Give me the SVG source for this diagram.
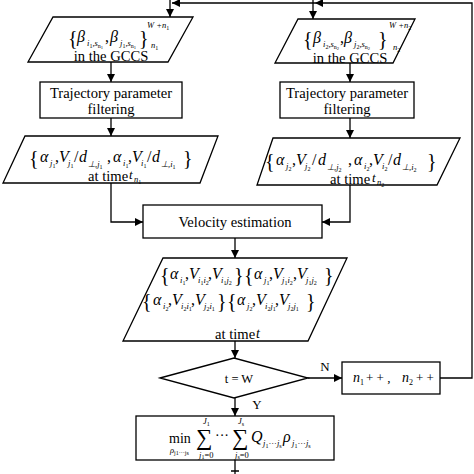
<svg xmlns="http://www.w3.org/2000/svg" width="474" height="474" viewBox="0 0 474 474">
<style>
.sh{fill:#fff;stroke:#000;stroke-width:1.3}
.ln{fill:none;stroke:#000;stroke-width:1.3}
.t{font-family:"Liberation Serif","Times New Roman",serif;font-size:14.6px;fill:#000}
.mi{font-family:"Liberation Serif","Times New Roman",serif;font-style:italic;font-size:16px;fill:#000}
.up{font-family:"Liberation Serif","Times New Roman",serif;font-size:16px;fill:#000}
.br{font-family:"Liberation Serif","Times New Roman",serif;font-size:20px;fill:#000}
.sb{font-family:"Liberation Serif","Times New Roman",serif;font-style:italic;font-size:8.5px;fill:#000}
.d{font-style:normal;font-size:6px}
</style>
<defs>
<marker id="ar" viewBox="0 0 10 10" refX="10" refY="5" markerWidth="9" markerHeight="8" markerUnits="userSpaceOnUse" orient="auto">
<path d="M0,0 L10,5 L0,10 Z" fill="#000"/>
</marker>
</defs>

<g id="connectors">
<path class="ln" d="M440,378 H472 V3 H315" marker-end="url(#ar)"/>
<path class="ln" d="M315,3 H172" marker-end="url(#ar)"/>
<path class="ln" d="M170,0 V17" marker-end="url(#ar)"/>
<path class="ln" d="M313,0 V19" marker-end="url(#ar)"/>
<path class="ln" d="M111,62 V82" marker-end="url(#ar)"/>
<path class="ln" d="M111,118 V136" marker-end="url(#ar)"/>
<path class="ln" d="M350,63 V82" marker-end="url(#ar)"/>
<path class="ln" d="M350,118 V138" marker-end="url(#ar)"/>
<path class="ln" d="M111,183 V222 H143" marker-end="url(#ar)"/>
<path class="ln" d="M350,185 V222 H322" marker-end="url(#ar)"/>
<path class="ln" d="M235,238 V258" marker-end="url(#ar)"/>
<path class="ln" d="M235,341 V358" marker-end="url(#ar)"/>
<path class="ln" d="M308,378 H342" marker-end="url(#ar)"/>
<path class="ln" d="M235,398 V416" marker-end="url(#ar)"/>
<path class="ln" d="M235,460 V474 M231,471 H239"/>
<text class="t" x="325" y="371" text-anchor="middle" style="font-size:13px">N</text>
<text class="t" x="257" y="409" text-anchor="middle" style="font-size:13px">Y</text>
</g>

<g id="in1">
<polygon class="sh" points="53,17 193,17 168,62 28,62"/>
<text class="br" x="68" y="45">{</text>
<text class="mi" x="77" y="42">β</text>
<text class="sb" x="87" y="46">i<tspan class="d" dy="1.5">1</tspan><tspan dy="-1.5">,s</tspan><tspan class="d" dy="1.5">n</tspan><tspan class="d" dy="1" style="font-size:4.5px">1</tspan></text>
<text class="up" x="105" y="42">,</text>
<text class="mi" x="110" y="42">β</text>
<text class="sb" x="120" y="46">j<tspan class="d" dy="1.5">1</tspan><tspan dy="-1.5">,s</tspan><tspan class="d" dy="1.5">n</tspan><tspan class="d" dy="1" style="font-size:4.5px">1</tspan></text>
<text class="br" x="139" y="45">}</text>
<text class="sb" x="147" y="28">W +n<tspan class="d" dy="1.5">1</tspan></text>
<text class="sb" x="151" y="48">n<tspan class="d" dy="1.5">1</tspan></text>
<text class="t" x="111" y="61" text-anchor="middle">in the GCCS</text>
</g>

<g id="in2">
<polygon class="sh" points="298,19 415,19 393,63 275,63"/>
<text class="br" x="303" y="46">{</text>
<text class="mi" x="313" y="43">β</text>
<text class="sb" x="323" y="47">i<tspan class="d" dy="1.5">2</tspan><tspan dy="-1.5">,s</tspan><tspan class="d" dy="1.5">n</tspan><tspan class="d" dy="1" style="font-size:4.5px">2</tspan></text>
<text class="up" x="340" y="43">,</text>
<text class="mi" x="344" y="43">β</text>
<text class="sb" x="354" y="47">j<tspan class="d" dy="1.5">2</tspan><tspan dy="-1.5">,s</tspan><tspan class="d" dy="1.5">n</tspan><tspan class="d" dy="1" style="font-size:4.5px">2</tspan></text>
<text class="br" x="378" y="46">}</text>
<text class="sb" x="389" y="28">W +n<tspan class="d" dy="1.5">2</tspan></text>
<text class="sb" x="393" y="50">n<tspan class="d" dy="1.5">2</tspan></text>
<text class="t" x="350" y="63" text-anchor="middle">in the GCCS</text>
</g>

<g id="filter1">
<rect class="sh" x="40" y="82" width="142" height="36"/>
<text class="t" x="111" y="98" text-anchor="middle">Trajectory parameter</text>
<text class="t" x="111" y="114" text-anchor="middle">filtering</text>
</g>

<g id="filter2">
<rect class="sh" x="280" y="82" width="134" height="36"/>
<text class="t" x="347" y="98" text-anchor="middle">Trajectory parameter</text>
<text class="t" x="347" y="114" text-anchor="middle">filtering</text>
</g>

<g id="par1">
<polygon class="sh" points="25,136 218,136 200,183 3,183"/>
<text class="br" x="29" y="165">{</text>
<text class="mi" x="40" y="162">α</text>
<text class="sb" x="50" y="166">j<tspan class="d" dy="1.5">1</tspan></text>
<text class="up" x="55" y="162">,</text>
<text class="mi" x="59" y="162">V</text>
<text class="sb" x="68" y="166">j<tspan class="d" dy="1.5">1</tspan></text>
<text class="up" x="74" y="162">/</text>
<text class="mi" x="79" y="162">d</text>
<text class="sb" x="88" y="167">⊥,j<tspan class="d" dy="1.5">1</tspan></text>
<text class="up" x="107" y="162">,</text>
<text class="mi" x="113" y="162">α</text>
<text class="sb" x="123" y="166">i<tspan class="d" dy="1.5">1</tspan></text>
<text class="up" x="128" y="162">,</text>
<text class="mi" x="132" y="162">V</text>
<text class="sb" x="141" y="166">i<tspan class="d" dy="1.5">1</tspan></text>
<text class="up" x="147" y="162">/</text>
<text class="mi" x="152" y="162">d</text>
<text class="sb" x="161" y="167">⊥,i<tspan class="d" dy="1.5">1</tspan></text>
<text class="br" x="183" y="165">}</text>
<text class="t" x="88" y="181">at time</text>
<text class="mi" x="129" y="179" style="font-size:13px">t</text>
<text class="sb" x="134" y="182">n<tspan class="d" dy="1.5">1</tspan></text>
</g>

<g id="par2">
<polygon class="sh" points="273,138 460,138 437,185 257,185"/>
<text class="br" x="265" y="168">{</text>
<text class="mi" x="276" y="165">α</text>
<text class="sb" x="286" y="169">j<tspan class="d" dy="1.5">2</tspan></text>
<text class="up" x="292" y="165">,</text>
<text class="mi" x="296" y="165">V</text>
<text class="sb" x="305" y="169">j<tspan class="d" dy="1.5">2</tspan></text>
<text class="up" x="312" y="165">/</text>
<text class="mi" x="318" y="165">d</text>
<text class="sb" x="327" y="170">⊥,j<tspan class="d" dy="1.5">2</tspan></text>
<text class="up" x="348" y="165">,</text>
<text class="mi" x="354" y="165">α</text>
<text class="sb" x="364" y="169">i<tspan class="d" dy="1.5">2</tspan></text>
<text class="up" x="369" y="165">,</text>
<text class="mi" x="373" y="165">V</text>
<text class="sb" x="382" y="169">i<tspan class="d" dy="1.5">2</tspan></text>
<text class="up" x="388" y="165">/</text>
<text class="mi" x="393" y="165">d</text>
<text class="sb" x="402" y="170">⊥,i<tspan class="d" dy="1.5">2</tspan></text>
<text class="br" x="427" y="168">}</text>
<text class="t" x="330" y="184">at time</text>
<text class="mi" x="372" y="182" style="font-size:13px">t</text>
<text class="sb" x="377" y="185">n<tspan class="d" dy="1.5">2</tspan></text>
</g>

<g id="velocity">
<rect class="sh" x="143" y="205" width="179" height="33"/>
<text class="t" x="235" y="227" text-anchor="middle">Velocity estimation</text>
</g>

<g id="par3">
<polygon class="sh" points="163,258 347,258 308,341 123,341"/>
<text class="br" x="160" y="282">{</text>
<text class="mi" x="170" y="279">α</text>
<text class="sb" x="180" y="283">i<tspan class="d" dy="1.5">1</tspan></text>
<text class="up" x="185" y="279">,</text>
<text class="mi" x="189" y="279">V</text>
<text class="sb" x="198" y="283">i<tspan class="d" dy="1.5">1</tspan><tspan dy="-1.5">i</tspan><tspan class="d" dy="1.5">2</tspan></text>
<text class="up" x="208" y="279">,</text>
<text class="mi" x="212" y="279">V</text>
<text class="sb" x="221" y="283">i<tspan class="d" dy="1.5">1</tspan><tspan dy="-1.5">j</tspan><tspan class="d" dy="1.5">2</tspan></text>
<text class="br" x="234" y="282">}</text>
<text class="br" x="244" y="282">{</text>
<text class="mi" x="254" y="279">α</text>
<text class="sb" x="264" y="283">j<tspan class="d" dy="1.5">1</tspan></text>
<text class="up" x="269" y="279">,</text>
<text class="mi" x="273" y="279">V</text>
<text class="sb" x="282" y="283">j<tspan class="d" dy="1.5">1</tspan><tspan dy="-1.5">i</tspan><tspan class="d" dy="1.5">2</tspan></text>
<text class="up" x="293" y="279">,</text>
<text class="mi" x="297" y="279">V</text>
<text class="sb" x="306" y="283">j<tspan class="d" dy="1.5">1</tspan><tspan dy="-1.5">j</tspan><tspan class="d" dy="1.5">2</tspan></text>
<text class="br" x="324" y="282">}</text>

<text class="br" x="142" y="308">{</text>
<text class="mi" x="153" y="305">α</text>
<text class="sb" x="163" y="309">i<tspan class="d" dy="1.5">2</tspan></text>
<text class="up" x="168" y="305">,</text>
<text class="mi" x="172" y="305">V</text>
<text class="sb" x="181" y="309">i<tspan class="d" dy="1.5">2</tspan><tspan dy="-1.5">i</tspan><tspan class="d" dy="1.5">1</tspan></text>
<text class="up" x="191" y="305">,</text>
<text class="mi" x="195" y="305">V</text>
<text class="sb" x="204" y="309">j<tspan class="d" dy="1.5">2</tspan><tspan dy="-1.5">i</tspan><tspan class="d" dy="1.5">1</tspan></text>
<text class="br" x="217" y="308">}</text>
<text class="br" x="227" y="308">{</text>
<text class="mi" x="237" y="305">α</text>
<text class="sb" x="247" y="309">j<tspan class="d" dy="1.5">2</tspan></text>
<text class="up" x="252" y="305">,</text>
<text class="mi" x="256" y="305">V</text>
<text class="sb" x="265" y="309">i<tspan class="d" dy="1.5">2</tspan><tspan dy="-1.5">j</tspan><tspan class="d" dy="1.5">1</tspan></text>
<text class="up" x="275" y="305">,</text>
<text class="mi" x="279" y="305">V</text>
<text class="sb" x="288" y="309">j<tspan class="d" dy="1.5">2</tspan><tspan dy="-1.5">j</tspan><tspan class="d" dy="1.5">1</tspan></text>
<text class="br" x="306" y="308">}</text>
<text class="t" x="215" y="339">at time</text>
<text class="mi" x="256" y="338" style="font-size:14px">t</text>
</g>

<g id="decision">
<polygon class="sh" points="160,378 234,358 308,378 234,398"/>
<text class="t" x="239" y="383" text-anchor="middle" style="font-size:12.5px">t = W</text>
</g>

<g id="increment">
<rect class="sh" x="342" y="362" width="98" height="32"/>
<text class="mi" x="353" y="382" style="font-size:14px">n</text>
<text class="t" x="360" y="385" style="font-size:8px">1</text>
<text class="t" x="366" y="382" style="font-size:13px">+ + ,</text>
<text class="mi" x="402" y="382" style="font-size:14px">n</text>
<text class="t" x="409" y="385" style="font-size:8px">2</text>
<text class="t" x="416" y="382" style="font-size:13px">+ +</text>
</g>

<g id="optimize">
<rect class="sh" x="136" y="416" width="198" height="44"/>
<text class="t" x="169" y="443" style="font-size:14px">min</text>
<text class="sb" x="170" y="453">ρ<tspan class="d" dy="1.5">j1···js</tspan></text>
<text class="up" x="196" y="445" style="font-size:23px">∑</text>
<text class="sb" x="203" y="424">J<tspan class="d" dy="1.5">1</tspan></text>
<text class="sb" x="199" y="457.5">j<tspan class="d" dy="1.5">1</tspan><tspan dy="-1.5" style="font-style:normal">=0</tspan></text>
<text class="up" x="215" y="440" style="font-size:14px">···</text>
<text class="up" x="232" y="445" style="font-size:23px">∑</text>
<text class="sb" x="238" y="424">J<tspan class="d" dy="1.5">s</tspan></text>
<text class="sb" x="235" y="457.5">j<tspan class="d" dy="1.5">s</tspan><tspan dy="-1.5" style="font-style:normal">=0</tspan></text>
<text class="mi" x="251" y="442">Q</text>
<text class="sb" x="263" y="446">j<tspan class="d" dy="1.5">1</tspan><tspan dy="-1.5" style="font-style:normal">···</tspan>j<tspan class="d" dy="1.5">s</tspan></text>
<text class="mi" x="283" y="442">ρ</text>
<text class="sb" x="292" y="446">j<tspan class="d" dy="1.5">1</tspan><tspan dy="-1.5" style="font-style:normal">···</tspan>j<tspan class="d" dy="1.5">s</tspan></text>
</g>
</svg>
